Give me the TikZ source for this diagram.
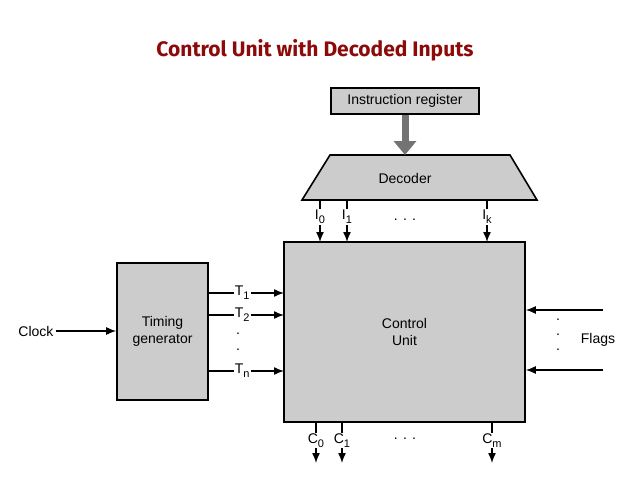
\documentclass[tikz,border=0pt]{standalone}
\usepackage{fontspec}
\setmainfont{Liberation Sans}
\newfontfamily\titlefont{Fira Sans}
\usetikzlibrary{arrows.meta}
\definecolor{boxgray}{RGB}{204,204,204}
\definecolor{titlered}{RGB}{140,10,10}
\newcommand{\sbs}[2]{#1\raisebox{-4pt}{\fontsize{11}{12}\selectfont #2}}
\begin{document}
\begin{tikzpicture}[x=1pt,y=-1pt,
  blk/.style={draw=black,line width=1.6pt,fill=boxgray},
  sig/.style={line width=1.4pt,-{Latex[length=10pt,width=8pt]}},
  lab/.style={fill=white,inner sep=1pt,font=\fontsize{14}{15}\selectfont},
  txt/.style={font=\fontsize{14}{17}\selectfont}]
\useasboundingbox (0,0) rectangle (638,479);
\node[font=\titlefont\bfseries\fontsize{21}{24}\selectfont,text=titlered] (title) at (315,50) {Control Unit with Decoded Inputs};
% Instruction register
\node[blk,minimum width=148pt,minimum height=26pt,txt] (ir) at (405,101) {Instruction register};
% Decoder
\draw[blk] (330,155) -- (510,155) -- (537,200) -- (302,200) -- cycle;
\node[txt] (dec) at (405,178) {Decoder};
\coordinate (dectop) at (405,155);
\draw[line width=7pt,draw=gray!90!black,-{Triangle[length=14pt,width=22pt]}] (ir.south) -- (dectop);
% Control unit
\node[blk,minimum width=241pt,minimum height=180pt,align=center,txt] (cu) at (404.5,332) {Control\\Unit};
% Timing generator
\node[blk,minimum width=91pt,minimum height=137pt,align=center,txt] (tg) at (162.5,331.5) {Timing\\generator};
% I lines
\foreach \n/\x/\a/\b in {i0/320/I/0,i1/347/I/1,ik/487/I/k}{
  \coordinate (\n a) at (\x,200);
  \coordinate (\n b) at (\x,242);
  \draw[sig] (\n a) -- node[lab,pos=0.4]{\sbs{\a}{\b}} (\n b);
}
\node[txt] (idots) at (405,220) {. . .};
% T lines
\foreach \n/\y/\a/\b in {t1/293/T/1,t2/315/T/2,tn/371/T/n}{
  \coordinate (\n a) at (208,\y);
  \coordinate (\n b) at (284,\y);
  \draw[sig] (\n a) -- node[lab,pos=0.45]{\sbs{\a}{\b}} (\n b);
}
\node[txt] (td1) at (238,334) {.};
\node[txt] (td2) at (238,350) {.};
% Clock
\node[txt] (clock) at (36,331) {Clock};
\coordinate (clk) at (56,331);
\draw[sig] (clk) -- (clk -| tg.west);
% Flags
\coordinate (f1) at (603,310);
\coordinate (f2) at (603,370);
\draw[sig] (f1) -- (f1 -| cu.east);
\draw[sig] (f2) -- (f2 -| cu.east);
\node[txt] (flags) at (598,340) {Flags};
\node[txt] (fd1) at (558,320) {.};
\node[txt] (fd2) at (558,335) {.};
\node[txt] (fd3) at (558,350) {.};
% C lines
\foreach \n/\x/\a/\b in {c0/316/C/0,c1/342/C/1,cm/492/C/m}{
  \coordinate (\n a) at (\x,422);
  \coordinate (\n b) at (\x,463);
  \draw[sig] (\n a) -- node[lab,pos=0.45]{\sbs{\a}{\b}} (\n b);
}
\node[txt] (cdots) at (405,439) {. . .};
\end{tikzpicture}
\end{document}
